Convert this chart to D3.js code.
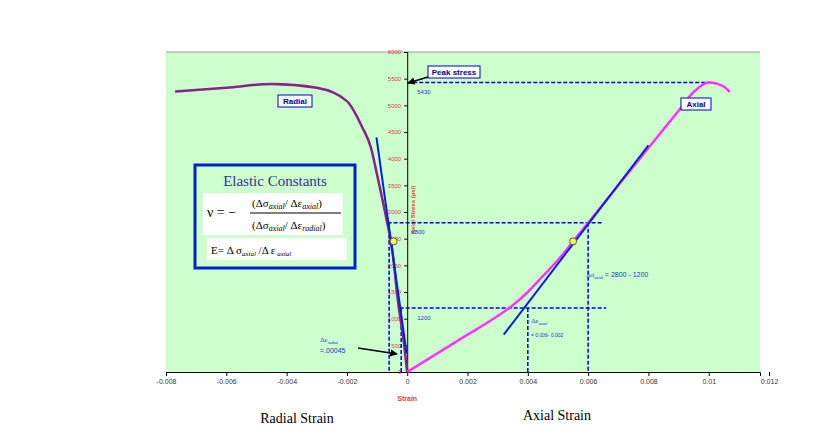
<!DOCTYPE html>
<html><head><meta charset="utf-8">
<script src="https://cdn.jsdelivr.net/npm/d3@7"></script>
<style>body{margin:0;background:#fff}</style></head>
<body><div id="chart"></div>
<script>
var radialStrain = [-0.0077,-0.006,-0.0045,-0.003,-0.002,-0.0015,-0.0012,-0.001,-0.0007,-0.0005,-0.0003,-0.0001,0];
var radialStress = [5260,5330,5400,5330,5080,4600,4200,3700,2900,2300,1300,500,0];
var axialStrain = [0,0.001,0.002,0.003,0.0035,0.004,0.0045,0.005,0.0055,0.006,0.007,0.008,0.009,0.0095,0.01,0.0105,0.0107];
var axialStress = [0,350,700,1050,1250,1500,1800,2100,2450,2800,3500,4200,4900,5250,5430,5350,5250];
var xTicks = [-0.008,-0.006,-0.004,-0.002,0,0.002,0.004,0.006,0.008,0.01,0.012];
var yTicks = [0,500,1000,1500,2000,2500,3000,3500,4000,4500,5000,5500,6000];
var radialFit = [[-0.00102,4400],[-0.00002,350]];
var axialFit = [[0.0032,700],[0.008,4250]];
var points = [[-0.00045,2450],[0.0055,2450]];

var W = 828, H = 445;
var svg = d3.select("#chart").append("svg").attr("width", W).attr("height", H);
var x = d3.scaleLinear().domain([-0.008, 0.0117]).range([166, 760]);
var y = d3.scaleLinear().domain([0, 6000]).range([372, 52]);

svg.append("rect").attr("x", 166).attr("y", 52).attr("width", 594).attr("height", 320).attr("fill", "#ccffcc");
svg.append("line").attr("x1", 166).attr("x2", 760).attr("y1", 52).attr("y2", 52).attr("stroke", "#999");

// axes
svg.append("g").attr("transform", "translate(0,372)")
    .call(d3.axisBottom(x).tickValues(xTicks).tickSize(4).tickFormat(d => d === 0 ? "0" : String(+d.toFixed(3))))
    .call(g => g.select(".domain").attr("stroke", "#000"))
    .call(g => g.selectAll("text").attr("font-family", "Liberation Sans").attr("font-size", 7).attr("fill", "#333"));
svg.append("g").attr("transform", "translate(" + x(0) + ",0)")
    .call(d3.axisLeft(y).tickValues(yTicks).tickSize(3).tickFormat(d => String(d)))
    .call(g => g.select(".domain").attr("stroke", "#000"))
    .call(g => g.selectAll("text").attr("font-family", "Liberation Sans").attr("font-size", 6).attr("fill", "#e04040"));
svg.append("text").attr("transform", "translate(415,210) rotate(-90)").attr("text-anchor", "middle")
    .attr("font-family", "Liberation Sans").attr("font-size", 6).attr("font-weight", "bold").attr("fill", "#e04040").text("Axial Stress (psi)");
svg.append("text").attr("x", x(0)).attr("y", 401).attr("text-anchor", "middle").attr("font-family", "Liberation Sans")
    .attr("font-size", 7).attr("font-weight", "bold").attr("fill", "#e04040").text("Strain");
svg.append("text").attr("x", 297).attr("y", 423).attr("text-anchor", "middle").attr("font-family", "Liberation Serif").attr("font-size", 14).text("Radial Strain");
svg.append("text").attr("x", 557).attr("y", 420).attr("text-anchor", "middle").attr("font-family", "Liberation Serif").attr("font-size", 14).text("Axial Strain");

// dashed guides
var dash = svg.append("g").attr("stroke", "#0000dd").attr("stroke-width", 1.5).attr("stroke-dasharray", "4,2");
var seg = (a, b) => dash.append("line").attr("x1", x(a[0])).attr("y1", y(a[1])).attr("x2", x(b[0])).attr("y2", y(b[1]));
seg([0, 5430], [0.0101, 5430]);
seg([-0.00065, 2800], [0.0065, 2800]);
seg([-0.00025, 1200], [0.0066, 1200]);
seg([-0.0006, 2800], [-0.0006, 0]);
seg([-0.0002, 1200], [-0.0002, 0]);
seg([0.004, 1200], [0.004, 0]);
seg([0.006, 2800], [0.006, 0]);

var lineY = d3.line().x(d => x(d[0])).y(d => y(d[1])).curve(d3.curveMonotoneX);
svg.append("path").attr("d", lineY(radialStrain.map((s, i) => [s, radialStress[i]]))).attr("fill", "none").attr("stroke", "#882288").attr("stroke-width", 2.5);
svg.append("path").attr("d", lineY(axialStrain.map((s, i) => [s, axialStress[i]]))).attr("fill", "none").attr("stroke", "#ff33ff").attr("stroke-width", 2.5);
[radialFit, axialFit].forEach(f => svg.append("path").attr("d", d3.line().x(d => x(d[0])).y(d => y(d[1]))(f)).attr("stroke", "#0022dd").attr("stroke-width", 2));
svg.selectAll("circle.pt").data(points).join("circle").attr("cx", d => x(d[0])).attr("cy", d => y(d[1])).attr("r", 3.5)
    .attr("fill", "#ffff44").attr("stroke", "#555");

// value labels
var small = (t, px, py, fs) => svg.append("text").attr("x", px).attr("y", py).attr("font-family", "Liberation Sans").attr("font-size", fs || 6).attr("fill", "#2233cc").text(t);
small("5430", x(0) + 10, y(5430) + 12);
small("2800", x(0) + 4, y(2800) + 11);
small("1200", x(0) + 10, y(1200) + 12);

// boxed labels
function boxLabel(t, cx, cy, w) {
    svg.append("rect").attr("x", cx - w / 2).attr("y", cy - 6).attr("width", w).attr("height", 12).attr("fill", "#fff").attr("stroke", "#0000cc");
    svg.append("text").attr("x", cx).attr("y", cy + 3).attr("text-anchor", "middle").attr("font-family", "Liberation Sans")
        .attr("font-size", 8).attr("font-weight", "bold").attr("fill", "#0000aa").text(t);
}
boxLabel("Radial", 295, 101, 34);
boxLabel("Axial", 696, 104, 30);
boxLabel("Peak stress", 454, 72, 52);

// arrows
svg.append("defs").append("marker").attr("id", "ah").attr("viewBox", "0 0 10 10").attr("refX", 9).attr("refY", 5)
    .attr("markerWidth", 5).attr("markerHeight", 5).attr("orient", "auto").append("path").attr("d", "M0,0L10,5L0,10z").attr("fill", "#000");
svg.append("line").attr("x1", 428).attr("y1", 77).attr("x2", 408).attr("y2", 83).attr("stroke", "#000").attr("stroke-width", 1.5).attr("marker-end", "url(#ah)");
svg.append("line").attr("x1", 358).attr("y1", 348).attr("x2", 397).attr("y2", 354).attr("stroke", "#000").attr("stroke-width", 1.5).attr("marker-end", "url(#ah)");

// delta annotations
var ann = (px, py, a, sub, rest, fs) => {
    var t = svg.append("text").attr("x", px).attr("y", py).attr("font-family", "Liberation Sans").attr("font-size", fs).attr("fill", "#2233cc");
    t.append("tspan").attr("font-family", "Liberation Serif").text(a);
    t.append("tspan").attr("font-size", fs * 0.6).attr("dy", 2).text(sub);
    t.append("tspan").attr("dy", -2).text(rest);
};
ann(320, 342, "Δε", "radial", "", 7);
small("=.00045", 320, 353, 7);
ann(586, 277, "Δσ", "axial", " = 2800 - 1200", 7);
ann(531, 323, "Δε", "axial", "", 7);
small("= 0.006- 0.002", 531, 337, 5);

// elastic constants box
var bx = 195, by = 165;
svg.append("rect").attr("x", bx).attr("y", by).attr("width", 160).attr("height", 103).attr("fill", "#ccffcc").attr("stroke", "#0022cc").attr("stroke-width", 3);
svg.append("text").attr("x", bx + 80).attr("y", by + 21).attr("text-anchor", "middle").attr("font-family", "Liberation Serif").attr("font-size", 15).attr("fill", "#333399").text("Elastic Constants");
svg.append("rect").attr("x", bx + 8).attr("y", by + 28).attr("width", 140).attr("height", 42).attr("fill", "#fff");
svg.append("rect").attr("x", bx + 12).attr("y", by + 73).attr("width", 140).attr("height", 22).attr("fill", "#fff");
var ser = (px, py, fs) => svg.append("text").attr("x", px).attr("y", py).attr("font-family", "Liberation Serif").attr("font-size", fs).attr("fill", "#000");
ser(bx + 12, by + 52, 14).text("ν  = −");
var frac = (py, s2) => { var t = ser(bx + 57, py, 11); t.append("tspan").text("(Δσ"); t.append("tspan").attr("font-style", "italic").attr("font-size", 8).attr("dy", 2).text("axial"); t.append("tspan").attr("dy", -2).text("/ Δε"); t.append("tspan").attr("font-style", "italic").attr("font-size", 8).attr("dy", 2).text(s2); t.append("tspan").attr("dy", -2).text(")"); };
frac(by + 42, "axial");
frac(by + 64, "radial");
svg.append("line").attr("x1", bx + 55).attr("x2", bx + 146).attr("y1", by + 48).attr("y2", by + 48).attr("stroke", "#000");
var e = ser(bx + 16, by + 89, 11); e.append("tspan").text("E= Δ σ"); e.append("tspan").attr("font-style", "italic").attr("font-size", 7).attr("dy", 2).text("axial");
e.append("tspan").attr("dy", -2).text(" /Δ ε"); e.append("tspan").attr("font-style", "italic").attr("font-size", 7).attr("dy", 2).text(" axial");
</script></body></html>
